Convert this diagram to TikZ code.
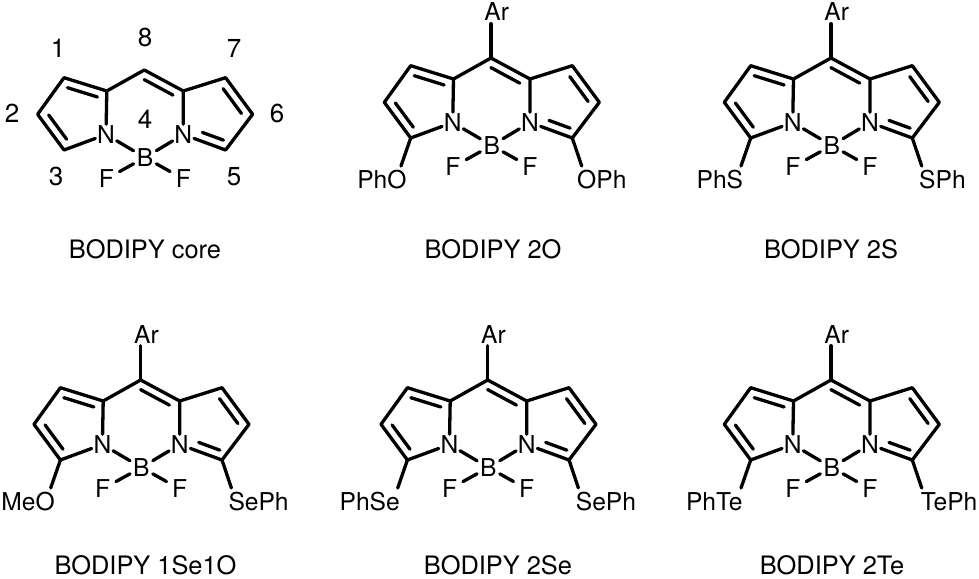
\documentclass[tikz,border=0pt]{standalone}
\usepackage{fontspec}
\setmainfont{TeX Gyre Heros}
\usetikzlibrary{calc}
\tikzset{
  bond/.style={line width=3.3pt,line cap=round,line join=round},
  atom/.style={inner sep=1.6pt,font=\fontsize{24.6}{24}\selectfont,text height=17pt,text depth=0pt,anchor=base},
  atomB/.style={atom,inner sep=3pt},
  atomF/.style={atom,inner sep=5.5pt},
  lab/.style={inner sep=0pt,font=\fontsize{24.6}{24}\selectfont},
  numlab/.style={inner sep=0pt,anchor=base,font=\fontsize{26}{26}\selectfont},
  captext/.style={inner sep=0pt,anchor=base,font=\fontsize{25.4}{25}\selectfont}
}
% #1 prefix, #2 x, #3 y
\newcommand{\ring}[3]{%
 \begin{scope}[shift={(#2,#3)}]
  \coordinate (#1m) at (0,0);
  \coordinate (#1la) at (-37.5,21);
  \coordinate (#1lb) at (-80.3,7.7);
  \coordinate (#1lc) at (-106.7,44.3);
  \coordinate (#1ld) at (-80.3,80);
  \coordinate (#1ra) at (39,21);
  \coordinate (#1rb) at (81.3,7.7);
  \coordinate (#1rc) at (108.3,44.3);
  \coordinate (#1rd) at (81.3,80);
  \node[atom] (#1NL) at (-38.3,73) {N};
  \node[atom] (#1NR) at (39,73) {N};
  \node[atomB] (#1B) at (0.7,96) {B};
  \node[atomF] (#1FL) at (-38,117.4) {F};
  \node[atomF] (#1FR) at (39,117.4) {F};
 \end{scope}
 \draw[bond] (#1NL) -- (#1la) -- (#1lb) -- (#1lc) -- (#1ld) -- (#1NL);
 \draw[bond] (#1la) -- (#1m) -- (#1ra) -- (#1NR);
 \draw[bond] (#1ra) -- (#1rb) -- (#1rc) -- (#1rd) -- (#1NR);
 \draw[bond] (#1NL) -- (#1B) -- (#1NR);
 \draw[bond] (#1FL) -- (#1B) -- (#1FR);
 \draw[bond] ($(#1lb)!.14!(#1la)!8.5pt!-90:(#1la)$) -- ($(#1lb)!.84!(#1la)!8.5pt!-90:(#1la)$);
 \draw[bond] ($(#1lc)!.16!(#1ld)!8.5pt!90:(#1ld)$) -- ($(#1lc)!.84!(#1ld)!8.5pt!90:(#1ld)$);
 \draw[bond] ($(#1m)!.1!(#1ra)!8.5pt!-90:(#1ra)$) -- ($(#1m)!.84!(#1ra)!8.5pt!-90:(#1ra)$);
 \draw[bond] ($(#1rb)!.16!(#1rc)!8.5pt!-90:(#1rc)$) -- ($(#1rb)!.84!(#1rc)!8.5pt!-90:(#1rc)$);
 \draw[bond] ($(#1NR)!.38!(#1rd)!8.5pt!90:(#1rd)$) -- ($(#1NR)!.88!(#1rd)!8.5pt!90:(#1rd)$);
}
% Ar group and substituents: #1 prefix, #2 x, #3 y, #4 left text, #5 right text, #6 left edge offset, #7 right edge offset
\newcommand{\subst}[7]{%
 \begin{scope}[shift={(#2,#3)}]
  \node[lab,anchor=base] (#1Ar) at (5.7,-37) {Ar};
  \coordinate (#1arb) at (0,-34.3);
  \node[lab,anchor=base east] (#1SL) at (#6,130) {#4};
  \node[lab,anchor=base west] (#1SR) at (#7,130) {#5};
  \coordinate (#1sl) at (-90,108);
  \coordinate (#1sr) at (90.7,108);
 \end{scope}
 \draw[bond] (#1m) -- (#1arb);
 \draw[bond] (#1ld) -- (#1sl);
 \draw[bond] (#1rd) -- (#1sr);
}
\begin{document}
\begin{tikzpicture}[x=1pt,y=-1pt]
\useasboundingbox (0,0) rectangle (979,578);
\fill[white] (0,0) rectangle (979,578);
\ring{a}{144.3}{70}
\ring{b}{491}{58}\subst{b}{491}{58}{PhO}{OPh}{-84.3}{86}
\ring{c}{831}{58}\subst{c}{831}{58}{PhS}{SPh}{-87.7}{88}
\ring{d}{140.7}{380}\subst{d}{140.7}{380}{MeO}{SePh}{-85.7}{87.6}
\ring{e}{487.7}{380}\subst{e}{487.7}{380}{PhSe}{SePh}{-87.7}{88}
\ring{f}{831}{380}\subst{f}{831}{380}{PhTe}{TePh}{-88.3}{89.7}
\node[numlab] (n1) at (58,58) {1};
\node[numlab] (n2) at (12,122) {2};
\node[numlab] (n3) at (56,185) {3};
\node[numlab] (n4) at (145,128) {4};
\node[numlab] (n5) at (234,185) {5};
\node[numlab] (n6) at (277,122) {6};
\node[numlab] (n7) at (234,58) {7};
\node[numlab] (n8) at (145,47) {8};
\node[captext] (t1) at (145,258) {BODIPY core};
\node[captext] (t2) at (493,258) {BODIPY 2O};
\node[captext] (t3) at (831,258) {BODIPY 2S};
\node[captext] (t4) at (145.5,574) {BODIPY 1Se1O};
\node[captext] (t5) at (498,574) {BODIPY 2Se};
\node[captext] (t6) at (832,574) {BODIPY 2Te};
\end{tikzpicture}
\end{document}
